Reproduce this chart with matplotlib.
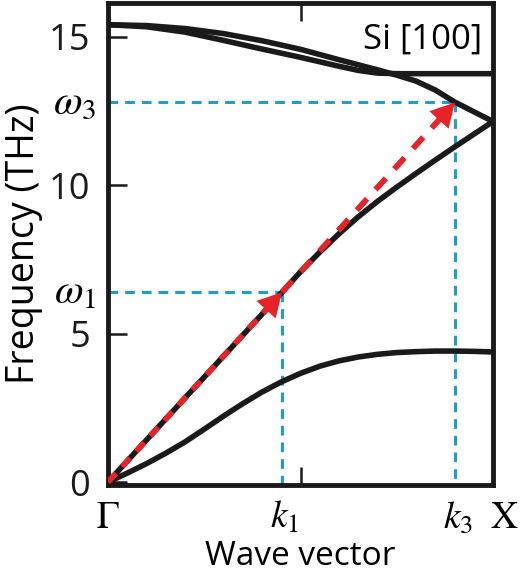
import numpy as np
import matplotlib
matplotlib.use("Agg")
import matplotlib.pyplot as plt

# phonon branches of Si along [100] (k in units of G-X)
k_ta = [0, 0.05, 0.10, 0.15, 0.20, 0.25, 0.30, 0.35, 0.40, 0.45, 0.50,
        0.55, 0.60, 0.65, 0.70, 0.75, 0.80, 0.85, 0.90, 0.95, 1.0]
f_ta = [0, 0.3, 0.62, 0.97, 1.35, 1.78, 2.22, 2.64, 3.03, 3.37, 3.66,
        3.9, 4.08, 4.21, 4.3, 4.36, 4.39, 4.41, 4.41, 4.40, 4.38]

k_la = [0, 0.2, 0.34, 0.452, 0.5, 0.55, 0.6, 0.65, 0.7, 0.75, 0.8, 0.85, 0.9, 0.95, 1.0]
f_la = [0, 2.83, 4.8, 6.39, 7.08, 7.74, 8.36, 8.93, 9.45, 9.93, 10.39, 10.84, 11.28, 11.71, 12.14]

k_lo = [0, 0.1, 0.2, 0.3, 0.4, 0.5, 0.6, 0.7, 0.75, 0.8, 0.85, 0.9, 0.95, 1.0]
f_lo = [15.4, 15.37, 15.27, 15.1, 14.86, 14.57, 14.22, 13.88, 13.7, 13.5, 13.2, 12.8, 12.47, 12.14]

k_to = [0, 0.1, 0.2, 0.3, 0.4, 0.5, 0.6, 0.65, 0.7, 0.75, 1.0]
f_to = [15.4, 15.33, 15.15, 14.87, 14.58, 14.3, 14.0, 13.86, 13.77, 13.75, 13.75]

# marked points
k1, w1 = 0.452, 6.39
k3, w3 = 0.901, 12.78

black = "#1a1a1a"
blue = "#1e9fca"
red = "#e52329"

plt.rcParams["font.family"] = ["Open Sans", "DejaVu Sans"]
plt.rcParams["mathtext.fontset"] = "stix"
plt.rcParams["lines.scale_dashes"] = False

fig = plt.figure(figsize=(5.2, 5.76), dpi=100)
ax = fig.add_axes([108 / 520, 91 / 576, 385 / 520, 482 / 576])
ax.set_xlim(0, 1)
ax.set_ylim(-0.1, 16.13)

# guide lines for k1/w1 and k3/w3
ax.plot([0, k1], [w1, w1], color=blue, lw=2.2, dashes=(7, 5), zorder=1)
ax.plot([k1, k1], [w1, -0.1], color=blue, lw=2.2, dashes=(7, 5), zorder=1)
ax.plot([0, k3], [w3, w3], color=blue, lw=2.2, dashes=(7, 5), zorder=1)
ax.plot([k3, k3], [w3, -0.1], color=blue, lw=2.2, dashes=(7, 5), zorder=1)

for kk, ff in [(k_ta, f_ta), (k_la, f_la), (k_lo, f_lo), (k_to, f_to)]:
    ax.plot(kk, ff, color=black, lw=4, solid_capstyle="butt", solid_joinstyle="round", zorder=2)

def red_arrow(x0, y0, x1, y1, dash):
    p0 = ax.transData.transform((x0, y0))
    p1 = ax.transData.transform((x1, y1))
    u = (p1 - p0) / np.hypot(*(p1 - p0))
    base = ax.transData.inverted().transform(p1 - u * 22)
    ax.plot([x0, base[0]], [y0, base[1]], color=red, lw=4.2, dashes=dash,
            solid_capstyle="butt", zorder=3)
    ax.annotate("", xy=(x1, y1), xytext=(base[0], base[1]),
                arrowprops=dict(arrowstyle="-|>,head_length=1.0,head_width=0.55",
                                mutation_scale=17, color=red, lw=0,
                                shrinkA=0, shrinkB=0), zorder=4)

red_arrow(0, 0, k1, w1, (8.5, 6.5))
red_arrow(k1, w1, k3, w3, (11, 9))

for s in ax.spines.values():
    s.set_linewidth(3.5)
    s.set_color(black)

ax.set_yticks([0, 5, 10, 15])
ax.set_yticklabels(["0", "5", "10", "15"])
ax.tick_params(axis="y", direction="in", length=14, width=1.8, labelsize=26, pad=13, colors=black)
ax.set_xticks([0.5])
ax.set_xticklabels([])
ax.tick_params(axis="x", direction="in", length=13, width=1.8, top=True, colors=black)

ax.set_ylabel("Frequency (THz)", fontsize=27, labelpad=4)
ax.set_xlabel("Wave vector", fontsize=24, labelpad=36)

tb = ax.get_xaxis_transform()
ax.text(0, -0.068, r"$\Gamma$", transform=tb, ha="center", va="center", fontsize=27)
ax.text(k1 - 0.032, -0.068, r"$k_1$", transform=tb, ha="left", va="center", fontsize=27)
ax.text(k3 - 0.032, -0.068, r"$k_3$", transform=tb, ha="left", va="center", fontsize=27)
ax.text(1.028, -0.068, r"$\mathrm{X}$", transform=tb, ha="center", va="center", fontsize=27)

ty = ax.get_yaxis_transform()
ax.text(-0.03, w1, r"$\omega_1$", transform=ty, ha="right", va="center", fontsize=30)
ax.text(-0.03, w3, r"$\omega_3$", transform=ty, ha="right", va="center", fontsize=30)

ax.text(0.972, 0.96, "Si [100]", transform=ax.transAxes, ha="right", va="top", fontsize=25)

fig.savefig("out.png", dpi=100)
